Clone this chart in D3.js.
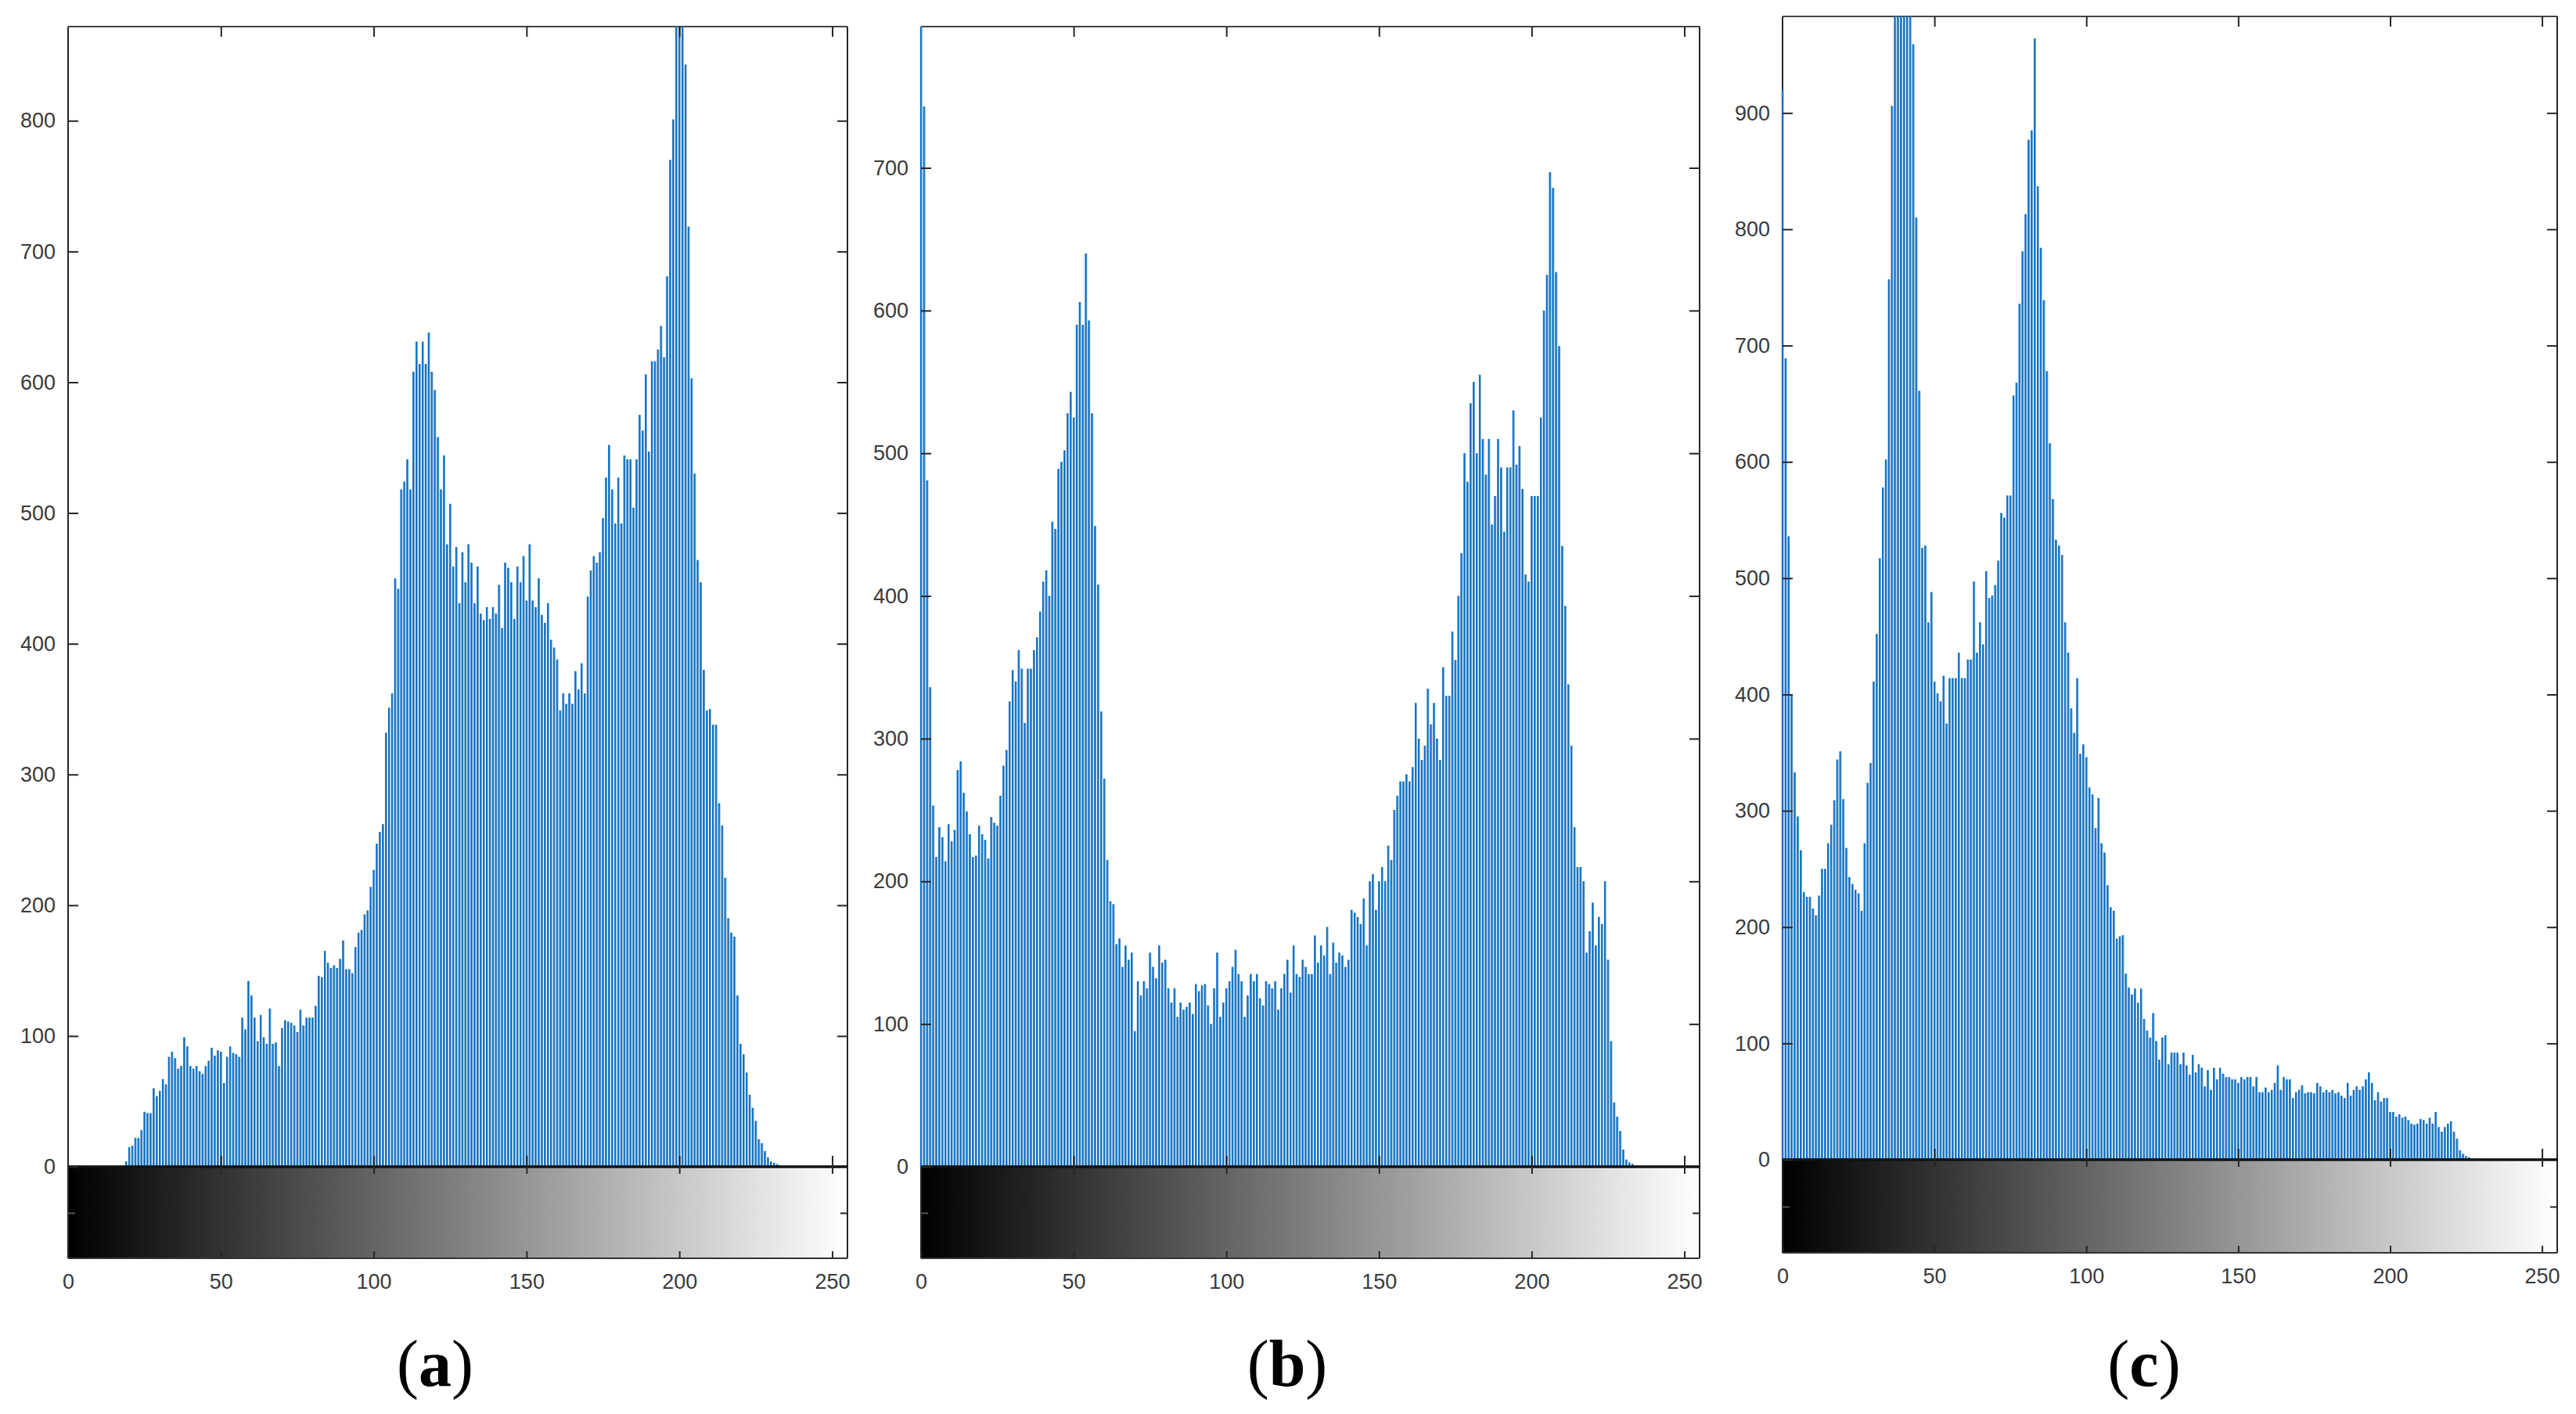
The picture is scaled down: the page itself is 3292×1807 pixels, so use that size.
<!DOCTYPE html>
<html>
<head>
<meta charset="utf-8">
<script src="https://cdn.jsdelivr.net/npm/d3@7"></script>
<style>
  body { margin: 0; background: #fff; }
  svg { display: block; }
  .tick text { font-family: "Liberation Sans", Arial, sans-serif; font-size: 27px; fill: #3a3a3a; }
  .tick line { stroke: #262626; stroke-width: 2; }
  .caption { font-family: "Liberation Serif", "Times New Roman", serif; font-size: 84px; fill: #000; }
</style>
</head>
<body>
<svg id="chart" width="3292" height="1807"></svg>
<script>
// grey-level histograms, one count per bin 0..255
const histA = [
  0,0,0,0,0,0,0,0,0,0,0,0,0,0,0,0,0,0,0,
  4,15,16,22,22,28,42,41,41,60,54,58,67,63,84,88,83,75,77,99,
  92,77,75,77,73,71,77,81,91,85,89,88,64,84,92,87,86,84,114,105,
  142,131,114,96,116,99,94,121,94,95,77,106,112,111,110,108,103,120,108,114,
  114,114,123,146,145,165,156,152,154,152,159,173,151,151,148,168,179,181,193,196,
  214,227,247,256,262,332,351,362,450,442,518,524,541,518,608,631,614,631,614,638,
  608,594,558,518,544,476,507,459,474,431,470,447,476,462,431,459,423,418,428,419,
  428,423,445,412,462,458,447,419,459,447,467,433,476,433,428,450,422,416,431,403,
  397,388,349,362,354,362,354,379,365,385,362,436,456,467,462,470,496,527,552,518,
  492,527,492,544,541,541,504,541,575,563,606,547,616,616,625,643,619,681,770,801,
  905,960,890,843,719,603,530,464,447,380,349,350,338,338,278,261,221,190,179,176,
  131,94,86,72,55,45,35,21,18,12,7,4,3,2,1,
  0,0,0,0,0,0,0,0,0,0,0,0,0,0,0,0,0,0,0,0,0,0
];

const histB = [
  820,743,481,336,253,217,238,231,214,240,228,236,278,284,262,249,233,217,218,239,
  233,229,216,245,241,239,260,281,292,326,348,340,362,349,311,349,349,362,371,389,
  410,418,400,452,447,489,494,502,528,543,525,590,606,590,640,593,528,449,408,319,
  272,215,186,184,156,160,140,155,145,150,95,130,120,130,125,150,140,132,155,143,
  145,125,115,125,105,115,110,112,115,107,128,123,127,128,113,100,125,150,105,115,
  125,130,140,152,135,130,105,120,135,130,135,118,113,130,128,125,130,110,125,135,
  145,122,155,135,133,145,140,135,135,162,143,155,148,168,135,157,143,150,148,140,
  145,180,178,175,170,188,155,200,205,180,200,210,200,225,215,250,260,270,270,275,
  270,280,325,300,285,295,335,310,325,300,285,350,330,330,375,355,400,430,500,480,
  535,550,500,555,510,485,510,450,470,510,490,445,490,490,530,492,505,475,415,410,
  470,470,470,525,600,625,697,686,627,575,435,393,338,295,238,210,210,200,150,165,
  185,155,175,170,200,145,88,45,35,25,12,5,3,2,
  0,0,0,0,0,0,0,0,0,0,0,0,0,0,0,0,0,0,0,0,0,0
];

const histC = [
  920,689,536,399,333,295,266,230,226,226,216,210,227,250,250,272,288,309,344,351,
  310,268,243,237,232,229,214,272,324,341,411,452,517,578,602,757,906,1010,1060,1120,
  1090,1050,1000,959,810,661,526,528,462,488,411,401,394,416,375,414,414,414,436,414,
  414,430,430,497,436,462,443,506,483,485,494,515,556,552,571,571,657,668,736,781,
  813,877,885,964,837,784,739,678,616,568,533,528,520,462,436,388,367,414,349,357,
  346,320,314,285,311,272,264,236,217,214,190,192,193,160,148,142,147,135,147,121,
  111,105,126,102,86,105,107,82,92,92,92,82,92,81,73,90,75,82,79,63,
  77,60,79,69,79,74,71,71,69,69,66,71,69,71,71,63,71,58,58,62,
  58,60,66,81,60,71,69,69,53,58,60,64,57,58,58,57,66,63,58,60,
  58,60,57,58,55,53,66,55,60,63,60,63,69,75,66,51,58,50,53,53,
  41,41,37,39,36,37,34,31,30,31,35,34,31,36,31,41,28,24,28,31,
  33,24,18,8,5,3,2,
  0,0,0,0,0,0,0,0,0,0,0,0,0,0,0,0,0,0,0,0,0,0,0,0,0,0,0,0,0
];

const xTicks = [0, 50, 100, 150, 200, 250];
const yTicksA = [0, 100, 200, 300, 400, 500, 600, 700, 800];
const yTicksB = [0, 100, 200, 300, 400, 500, 600, 700];
const yTicksC = [0, 100, 200, 300, 400, 500, 600, 700, 800, 900];
const yLimits = [872, 799, 983];
const captions = ['a', 'b', 'c'];

// layout of the three axes (pixels)
const panels = [
  { data: histA, yTicks: yTicksA, yMax: yLimits[0], cap: captions[0], left: 87,   right: 1083, top: 34, zero: 1491, bottom: 1608, capX: 556 },
  { data: histB, yTicks: yTicksB, yMax: yLimits[1], cap: captions[1], left: 1177, right: 2172, top: 34, zero: 1491, bottom: 1608, capX: 1645 },
  { data: histC, yTicks: yTicksC, yMax: yLimits[2], cap: captions[2], left: 2278, right: 3268, top: 21, zero: 1482, bottom: 1601, capX: 2740 }
];

const svg = d3.select('#chart');
const defs = svg.append('defs');

const grad = defs.append('linearGradient')
    .attr('id', 'grey')
    .attr('x1', '0%').attr('x2', '100%')
    .attr('y1', '0%').attr('y2', '0%');
grad.append('stop').attr('offset', '0%').attr('stop-color', '#000');
grad.append('stop').attr('offset', '100%').attr('stop-color', '#fff');

panels.forEach((p, k) => {
  const x = d3.scaleLinear().domain([0, 255]).range([p.left, p.right]);
  const y = d3.scaleLinear().domain([0, p.yMax]).range([p.zero, p.top]);
  const g = svg.append('g').attr('class', 'panel');

  defs.append('clipPath').attr('id', 'clip' + k)
    .append('rect')
    .attr('x', p.left - 3).attr('y', p.top)
    .attr('width', p.right - p.left + 6).attr('height', p.zero - p.top);

  // grey-level strip under the histogram
  g.append('rect')
    .attr('x', p.left).attr('y', p.zero)
    .attr('width', p.right - p.left).attr('height', p.bottom - p.zero)
    .attr('fill', 'url(#grey)');

  // box
  const box = g.append('g').attr('stroke', '#262626').attr('stroke-width', 2).attr('fill', 'none');
  box.append('line').attr('x1', p.left).attr('x2', p.right).attr('y1', p.top).attr('y2', p.top).attr('stroke', '#444');
  box.append('line').attr('x1', p.left).attr('x2', p.left).attr('y1', p.top).attr('y2', p.bottom);
  box.append('line').attr('x1', p.right).attr('x2', p.right).attr('y1', p.top).attr('y2', p.bottom);
  box.append('line').attr('x1', p.left).attr('x2', p.right).attr('y1', p.bottom).attr('y2', p.bottom).attr('stroke', '#333');

  // stems
  const bins = p.data.map((v, i) => ({ bin: i, v: v })).filter(d => d.v > 0);
  const bars = g.append('g').attr('clip-path', 'url(#clip' + k + ')');
  bars.selectAll('rect.halo')
    .data(bins)
    .enter()
    .append('rect')
    .attr('class', 'halo')
    .attr('x', d => x(d.bin) - 1.1)
    .attr('width', 2.7)
    .attr('y', d => y(d.v))
    .attr('height', d => p.zero - y(d.v))
    .attr('fill', '#5e9fcb');
  bars.selectAll('rect.stem')
    .data(bins)
    .enter()
    .append('rect')
    .attr('class', 'stem')
    .attr('x', d => x(d.bin) - 1.1)
    .attr('width', 1.7)
    .attr('y', d => y(d.v))
    .attr('height', d => p.zero - y(d.v))
    .attr('fill', '#0a6bc4');

  // zero line
  g.append('line')
    .attr('x1', p.left).attr('x2', p.right)
    .attr('y1', p.zero).attr('y2', p.zero)
    .attr('stroke', '#111').attr('stroke-width', 3.5);

  // y axes
  g.append('g')
    .attr('transform', `translate(${p.left},0)`)
    .call(d3.axisLeft(y).tickValues(p.yTicks).tickSizeInner(-13).tickSizeOuter(0).tickPadding(16))
    .call(a => a.select('.domain').remove());
  g.append('g')
    .attr('transform', `translate(${p.right},0)`)
    .call(d3.axisRight(y).tickValues(p.yTicks.filter(t => t > 0)).tickSizeInner(-13).tickSizeOuter(0).tickFormat(''))
    .call(a => a.select('.domain').remove());

  // x ticks: top, on the zero line, and on the strip
  g.append('g')
    .attr('transform', `translate(0,${p.top})`)
    .call(d3.axisTop(x).tickValues(xTicks.slice(1)).tickSizeInner(-13).tickSizeOuter(0).tickFormat(''))
    .call(a => a.select('.domain').remove());
  g.append('g')
    .attr('transform', `translate(0,${p.zero})`)
    .call(d3.axisBottom(x).tickValues(xTicks.slice(1)).tickSizeInner(-14).tickSizeOuter(0).tickFormat(''))
    .call(a => a.select('.domain').remove());
  g.append('g')
    .attr('transform', `translate(0,${p.zero})`)
    .call(d3.axisBottom(x).tickValues(xTicks.slice(1)).tickSizeInner(9).tickSizeOuter(0).tickFormat(''))
    .call(a => a.select('.domain').remove());
  g.append('g')
    .attr('transform', `translate(0,${p.bottom})`)
    .call(d3.axisBottom(x).tickValues(xTicks).tickSizeInner(-9).tickSizeOuter(0).tickPadding(20))
    .call(a => a.select('.domain').remove());

  // middle tick of the strip
  const mid = (p.zero + p.bottom) / 2 + 1;
  g.append('line').attr('x1', p.left).attr('x2', p.left + 9).attr('y1', mid).attr('y2', mid)
    .attr('stroke', '#555').attr('stroke-width', 2);
  g.append('line').attr('x1', p.right - 9).attr('x2', p.right).attr('y1', mid).attr('y2', mid)
    .attr('stroke', '#262626').attr('stroke-width', 2);

  // caption
  const cap = svg.append('text')
    .attr('class', 'caption')
    .attr('x', p.capX).attr('y', 1771)
    .attr('text-anchor', 'middle');
  cap.append('tspan').text('(');
  cap.append('tspan').attr('font-weight', 'bold').text(p.cap);
  cap.append('tspan').text(')');
});
</script>
</body>
</html>
